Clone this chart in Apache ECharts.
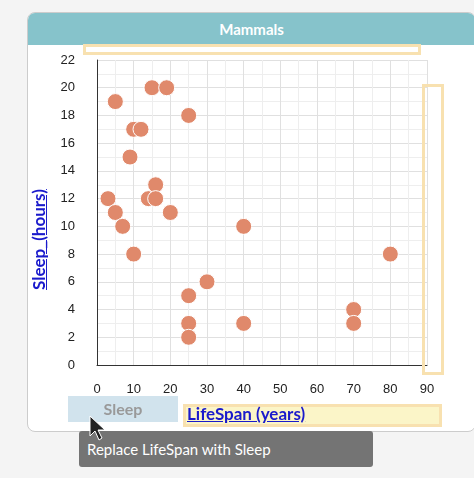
<!DOCTYPE html>
<html><head><meta charset="utf-8">
<script src="https://cdn.jsdelivr.net/npm/echarts@6/dist/echarts.min.js"></script>
<style>
body{margin:0;width:474px;height:478px;background:#f4f4f4;font-family:Lato,"Open Sans",sans-serif;position:relative;overflow:hidden}
#card{position:absolute;left:27px;top:12px;width:447px;height:418px;background:#fff;border:1px solid #ccc;border-radius:8px;overflow:hidden}
#hdr{position:absolute;left:0;top:0;width:100%;height:32px;background:#86c3cb;color:#fff;font-weight:bold;font-size:15px;text-align:center;line-height:32px}
#c{position:absolute;left:0;top:0;width:474px;height:478px}
.lbl{position:absolute;color:#1a1acc;text-decoration:underline;font-weight:bold;font-size:17px}
.box{position:absolute;border:3px solid #f8e1b0}
</style></head><body>
<div id="card"><div id="hdr">Mammals</div></div>
<div id="c"></div>
<div class="box" style="left:83px;top:44px;width:332px;height:5px"></div>
<div class="box" style="left:422px;top:84px;width:16px;height:285px"></div>
<div class="box" style="left:183px;top:404px;width:253px;height:17px;background:#fbf5c8"></div>
<div style="position:absolute;left:68px;top:396px;width:110px;height:26px;background:rgba(190,215,230,0.7);color:#999;font-weight:bold;font-size:16px;line-height:26px;text-align:center">Sleep</div>
<div class="lbl" style="left:187px;top:403px">LifeSpan (years)</div>
<div class="lbl" style="left:28px;top:290px;transform:rotate(-90deg);transform-origin:0 0">Sleep_(hours)</div>
<div style="position:absolute;left:79px;top:431px;width:294px;height:36px;background:#747474;color:#fff;font-size:15px;line-height:36px;padding-left:8px;box-sizing:border-box;border-radius:3px">Replace LifeSpan with Sleep</div>
<svg style="position:absolute;left:88px;top:414px" width="20" height="28"><path d="M2,2 L2,22 L7,17 L11,26 L14,24 L10,16 L17,16 Z" fill="#222" stroke="#fff" stroke-width="1"/></svg>
<script>
var lifeSpan=[5,15,19,10,12,9,25,3,5,7,10,14,16,16,20,40,80,30,25,25,25,40,70,70];
var sleep=[19,20,20,17,17,15,18,12,11,10,8,12,13,12,11,10,8,6,5,3,2,3,4,3];
var chart=echarts.init(document.getElementById('c'));
chart.setOption({
 grid:{left:97,right:47,top:60,bottom:113},
 xAxis:{type:'value',min:0,max:90,interval:10,axisLine:{show:true,onZero:false,lineStyle:{color:'#333'}},axisTick:{show:false},
  axisLabel:{color:'#222',fontSize:13,margin:18},splitLine:{lineStyle:{color:'#e0e0e0'}},minorTick:{show:false,splitNumber:2},minorSplitLine:{show:true,lineStyle:{color:'#eeeeee'}}},
 yAxis:{type:'value',min:0,max:22,interval:2,axisLine:{show:true,lineStyle:{color:'#333'}},axisTick:{show:false},
  axisLabel:{color:'#222',fontSize:13,margin:22},splitLine:{lineStyle:{color:'#e0e0e0'}},minorTick:{show:false,splitNumber:2},minorSplitLine:{show:true,lineStyle:{color:'#eeeeee'}}},
 series:[{type:'scatter',symbolSize:16,data:lifeSpan.map(function(v,i){return [v,sleep[i]];}),
  itemStyle:{color:'#e0896b',borderColor:'#fff',borderWidth:1,opacity:1}}]
});
</script></body></html>
